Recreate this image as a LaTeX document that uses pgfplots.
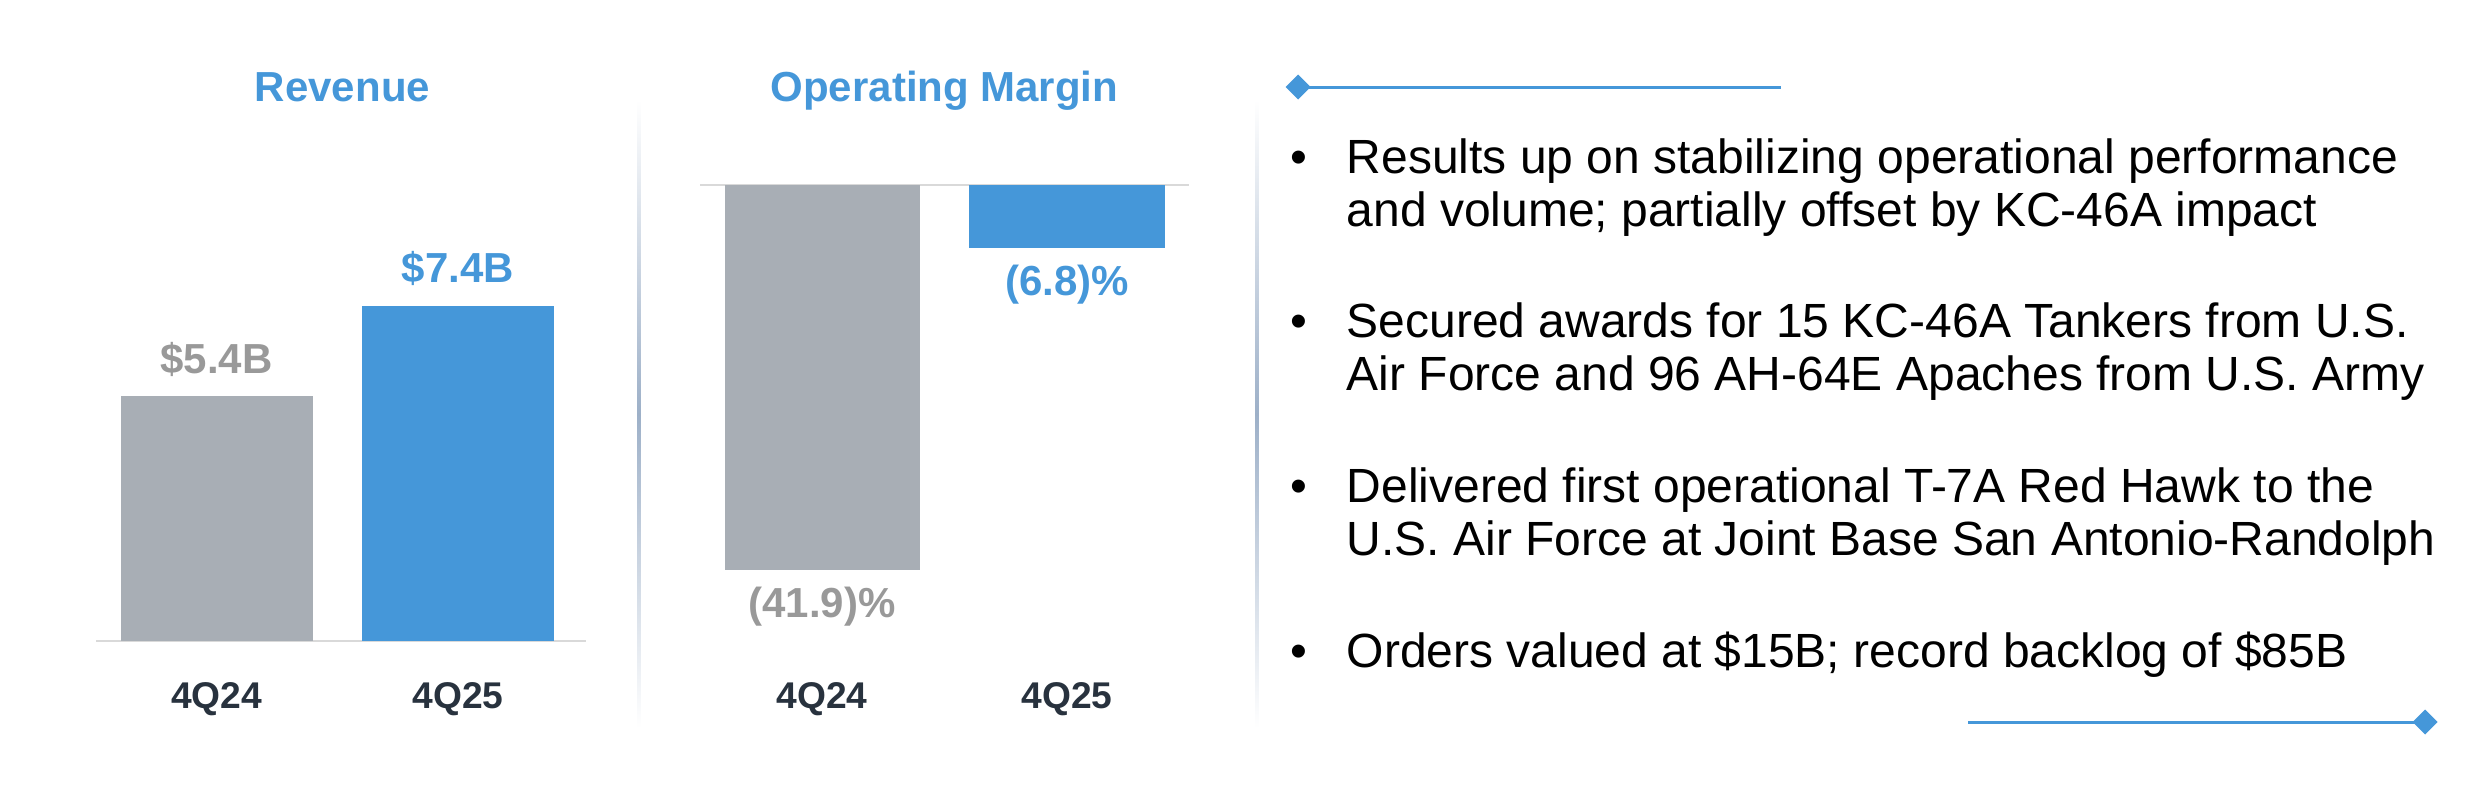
\documentclass[border=0pt]{standalone}
\usepackage{fontspec}
\setmainfont{Liberation Sans}
\usepackage{pgfplots}
\pgfplotsset{compat=1.18}
\definecolor{bblue}{HTML}{4597D9}
\definecolor{bgray}{HTML}{A8AEB5}
\definecolor{lgray}{HTML}{999999}
\definecolor{dark}{HTML}{28323E}
\definecolor{basec}{HTML}{D9D9D9}
\definecolor{sepc}{HTML}{9DB0C8}
\newcommand{\lblfont}{\fontsize{10.5pt}{12pt}\selectfont\bfseries}
\newcommand{\tickfont}{\fontsize{9.3pt}{11pt}\selectfont\bfseries}
\newcommand{\bodyfont}{\fontsize{12pt}{13pt}\selectfont}
\begin{document}
\begin{tikzpicture}[x=0.25pt,y=0.25pt]
\path[use as bounding box] (0,0) rectangle (2488,796);
% separators
\shade[top color=white, bottom color=white, middle color=sepc] (637.5,68) rectangle (640.5,696);
\shade[top color=white, bottom color=white, middle color=sepc] (1255.5,68) rectangle (1258.5,696);
% titles
\node[anchor=base, font=\lblfont, text=bblue, inner sep=0] at (342.5,694.5) {Revenue};
\node[anchor=base, font=\lblfont, text=bblue, inner sep=0] at (944.5,694.5) {Operating Margin};
% Revenue
\begin{axis}[
  at={(24pt,38.75pt)}, anchor=south west, scale only axis,
  width=122.45pt, height=113.25pt,
  xmin=-0.5, xmax=1.53, ymin=0, ymax=10,
  ybar, bar width=0.796, bar shift=0pt,
  axis line style={draw=none}, tick style={draw=none},
  ytick=\empty, xtick={0,1}, xticklabels={4Q24,4Q25},
  xticklabel style={font=\tickfont, text=dark, anchor=base, yshift=-12.5pt},
  clip=false,
  point meta=explicit symbolic, nodes near coords,
  every node near coord/.append style={font=\lblfont, anchor=base, yshift=5.75pt},
]
\draw[basec, line width=0.5pt] (axis cs:-0.5,0) -- (axis cs:1.53,0);
\addplot[fill=bgray, draw=none, every node near coord/.append style={text=lgray}] coordinates {(0,5.4) [\$5.4B]};
\addplot[fill=bblue, draw=none, every node near coord/.append style={text=bblue}] coordinates {(1,7.4) [\$7.4B]};
\end{axis}
% Operating margin
\begin{axis}[
  at={(175pt,49.25pt)}, anchor=south west, scale only axis,
  width=122.25pt, height=103.5pt,
  xmin=-0.498, xmax=1.498, ymin=-45, ymax=0,
  ybar, bar width=0.796, bar shift=0pt,
  axis line style={draw=none}, tick style={draw=none},
  ytick=\empty, xtick={0,1}, xticklabels={4Q24,4Q25},
  xticklabel style={font=\tickfont, text=dark, anchor=base, yshift=-23pt},
  clip=false,
  point meta=explicit symbolic, nodes near coords,
  every node near coord/.append style={font=\lblfont, anchor=base, yshift=-11.875pt},
]
\draw[basec, line width=0.5pt] (axis cs:-0.498,0) -- (axis cs:1.498,0);
\addplot[fill=bgray, draw=none, every node near coord/.append style={text=lgray}] coordinates {(0,-41.9) [(41.9)\%]};
\addplot[fill=bblue, draw=none, every node near coord/.append style={text=bblue}] coordinates {(1,-6.8) [(6.8)\%]};
\end{axis}
% decorations
\draw[bblue, line width=0.75pt] (1298,709) -- (1781,709);
\fill[bblue] (1285.5,709) -- (1298,721.5) -- (1310.5,709) -- (1298,696.5) -- cycle;
\draw[bblue, line width=0.75pt] (1968,74) -- (2425,74);
\fill[bblue] (2412.5,74) -- (2425,86.5) -- (2437.5,74) -- (2425,61.5) -- cycle;
% bullets
\begin{scope}[every node/.style={anchor=base west, inner sep=0, font=\bodyfont, text=black}]
\node[anchor=base] at (1299,623) {•};
\node at (1346,623) {Results up on stabilizing operational performance};
\node at (1346,570) {and volume; partially offset by KC-46A impact};
\node[anchor=base] at (1299,458.3) {•};
\node at (1346,458.3) {Secured awards for 15 KC-46A Tankers from U.S.};
\node at (1346,405.3) {Air Force and 96 AH-64E Apaches from U.S. Army};
\node[anchor=base] at (1299,293.7) {•};
\node at (1346,293.7) {Delivered first operational T-7A Red Hawk to the};
\node at (1346,240.7) {U.S. Air Force at Joint Base San Antonio-Randolph};
\node[anchor=base] at (1299,129) {•};
\node at (1346,129) {Orders valued at \$15B; record backlog of \$85B};
\end{scope}
\end{tikzpicture}
\end{document}
